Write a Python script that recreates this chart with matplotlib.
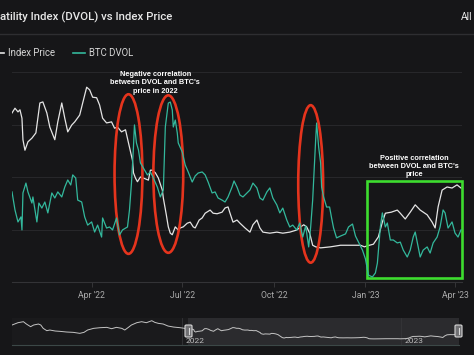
import pandas as pd
import matplotlib
matplotlib.use("Agg")
import matplotlib.pyplot as plt
import matplotlib.dates as mdates
from matplotlib.patches import Ellipse, Rectangle, FancyBboxPatch
from matplotlib.lines import Line2D

plt.rcParams['font.family'] = ['Roboto', 'DejaVu Sans']

W, H = 474, 355
BG = "#161618"
TEAL = "#33b89c"
WHITE = "#e4e4e4"

START = pd.Timestamp("2022-01-11")
END = pd.Timestamp("2023-04-08")
NAV_START = pd.Timestamp("2021-03-24")

# BTC index price (USD), days after START
price_day = [0, 3, 6, 8, 10, 11, 13, 16, 20, 24,
             28, 31, 35, 38, 43, 46, 50, 53, 56, 60,
             63, 68, 71, 75, 78, 81, 85, 88, 91, 95,
             100, 103, 106, 110, 114, 117, 121, 122, 124, 126,
             129, 132, 137, 139, 141, 144, 147, 151, 152, 155,
             157, 159, 161, 164, 167, 169, 172, 176, 179, 182,
             184, 188, 191, 194, 199, 202, 206, 211, 214, 217,
             219, 222, 226, 229, 234, 239, 242, 246, 249, 252,
             259, 266, 272, 279, 286, 290, 293, 296, 299, 302,
             305, 310, 320, 330, 341, 350, 354, 357, 363, 368,
             372, 375, 381, 387, 390, 395, 400, 405, 410, 417,
             422, 425, 428, 432, 437, 442, 447, 451]
price_usd = [42200, 43100, 42400, 42800, 41200, 37100, 35100, 36700, 37400, 38400,
             44100, 44300, 42200, 39500, 37100, 40500, 44100, 41200, 38600, 39900,
             40500, 41800, 44100, 47100, 46600, 45200, 45100, 43700, 41200, 40300,
             40500, 39300, 39500, 38600, 39000, 36500, 33200, 30800, 29800, 29100,
             30000, 29800, 29400, 31300, 31300, 30800, 29800, 27500, 26000, 22800,
             20500, 19300, 19000, 20500, 19900, 20300, 20500, 21200, 21400, 20500,
             20300, 21800, 22200, 23100, 23700, 23100, 23000, 23300, 24100, 24300,
             23100, 21400, 21800, 21200, 20300, 19500, 20900, 21800, 20300, 19500,
             19300, 19500, 19300, 19500, 19900, 20500, 20900, 20500, 19300, 17000,
             16700, 16500, 16700, 17000, 17000, 17000, 16700, 16900, 17200, 18600,
             21400, 23100, 23300, 23700, 23100, 22000, 23300, 24700, 23700, 22800,
             21400, 20300, 24300, 27500, 28100, 27900, 28500, 27900]

# BTC DVOL, days after START
dvol_day = [0, 3, 6, 9, 10, 11, 14, 16, 20, 21,
            25, 27, 30, 33, 36, 40, 43, 46, 50, 53,
            56, 59, 61, 64, 66, 70, 73, 76, 80, 83,
            86, 90, 91, 95, 98, 101, 105, 108, 111, 116,
            118, 120, 122, 123, 125, 127, 129, 132, 136, 139,
            142, 146, 149, 152, 154, 157, 159, 161, 162, 164,
            166, 167, 171, 174, 177, 181, 184, 187, 191, 194,
            197, 201, 204, 207, 211, 214, 217, 221, 223, 226,
            229, 232, 236, 239, 242, 246, 249, 252, 256, 259,
            262, 266, 269, 272, 276, 279, 282, 286, 289, 292,
            295, 298, 300, 302, 304, 305, 306, 308, 310, 311,
            313, 316, 319, 321, 323, 326, 330, 335, 338, 342,
            345, 348, 352, 355, 358, 362, 365, 367, 370, 372,
            375, 377, 380, 383, 387, 390, 393, 397, 400, 403,
            405, 407, 410, 413, 417, 420, 423, 427, 430, 433,
            435, 438, 442, 445, 448, 451]
dvol_val = [72.9, 64.3, 58.6, 61.0, 54.8, 72.4, 77.1, 72.9, 67.6, 70.5,
            58.6, 67.6, 65.2, 68.1, 62.9, 72.4, 70.0, 72.9, 70.5, 75.2,
            78.6, 76.2, 81.0, 79.5, 69.0, 68.1, 61.0, 57.1, 58.6, 53.8,
            57.1, 51.4, 60.5, 55.7, 56.2, 54.8, 60.5, 52.4, 54.8, 56.2,
            64.3, 77.1, 94.3, 104.8, 96.2, 92.9, 86.7, 84.3, 81.0, 82.4,
            79.5, 75.2, 70.5, 73.8, 103.8, 115.2, 115.7, 111.9, 103.8, 107.1,
            101.0, 96.2, 91.9, 85.7, 82.4, 77.6, 80.5, 81.9, 82.4, 81.0,
            77.6, 72.4, 72.9, 70.0, 69.0, 68.1, 70.5, 75.2, 78.1, 75.2,
            71.4, 70.5, 72.4, 73.8, 77.1, 74.8, 70.0, 69.0, 72.9, 74.8,
            70.0, 66.7, 62.9, 65.2, 59.5, 56.2, 57.1, 54.8, 58.1, 51.4,
            56.7, 46.7, 56.2, 69.0, 88.1, 97.6, 105.7, 94.3, 86.7, 75.2,
            70.5, 65.7, 65.7, 60.5, 55.7, 51.0, 51.9, 52.9, 56.2, 57.6,
            51.9, 49.0, 45.2, 41.0, 33.3, 32.4, 34.3, 39.0, 56.2, 62.9,
            56.2, 58.1, 50.0, 50.0, 48.6, 49.0, 45.2, 41.9, 45.2, 51.4,
            53.8, 49.0, 41.9, 45.2, 46.7, 43.8, 48.6, 51.4, 56.2, 64.3,
            62.9, 55.7, 58.6, 53.3, 51.4, 54.8]

# earlier price history, only visible in the navigator (days after NAV_START)
hist_day = [0, 10, 19, 24, 31, 36, 44, 48, 52, 58,
            63, 72, 80, 91, 102, 113, 120, 126, 136, 147,
            158, 166, 174, 183, 188, 194, 199, 208, 216, 224,
            233, 238, 244, 252, 260, 269, 280, 288]
hist_usd = [54000, 60300, 63000, 56700, 49500, 54000, 56700, 54000, 45000, 38700,
            40500, 37800, 36900, 35100, 34200, 31500, 34200, 40500, 45000, 46800,
            47700, 44100, 47700, 45000, 40500, 47700, 54000, 60300, 63000, 60300,
            65700, 61200, 58500, 56700, 51300, 48600, 46800, 45000]

price_ticks = [10000, 20000, 30000, 40000, 50000]
price_tick_labels = ["10K", "20K", "30K", "40K", ""]


def fx(px):
    return px / W


def fy(py):
    return 1 - py / H


price_dates = START + pd.to_timedelta(price_day, unit="D")
dvol_dates = START + pd.to_timedelta(dvol_day, unit="D")
hist_dates = NAV_START + pd.to_timedelta(hist_day, unit="D")

fig = plt.figure(figsize=(W / 100, H / 100), dpi=100, facecolor=BG)

# header
fig.text(0, fy(17), "atility Index (DVOL) vs Index Price", color="#e8e8e8",
         fontsize=8.2, fontweight="medium", va="center", ha="left")
fig.text(fx(461), fy(17), "All", color="#e8e8e8", fontsize=7.5, va="center", ha="left")
fig.add_artist(Line2D([0, 1], [fy(34), fy(34)], color="#2e2e31", lw=1))

# legend
fig.add_artist(Line2D([fx(-6), fx(4)], [fy(53), fy(53)], color=WHITE, lw=1.2))
fig.text(fx(8), fy(53), "Index Price", color="#d6d6d6", fontsize=6.9, va="center")
fig.add_artist(Line2D([fx(73), fx(85)], [fy(53), fy(53)], color=TEAL, lw=1.2))
fig.text(fx(89), fy(53), "BTC DVOL", color="#d6d6d6", fontsize=6.9, va="center")

# main chart: price on the base axes, DVOL on a twin drawn on top
ax = fig.add_axes([fx(12), fy(282), fx(462) - fx(12), fy(72) - fy(282)])
ax2 = ax.twinx()
ax.set_facecolor(BG)
ax.plot(price_dates, price_usd, color=WHITE, lw=0.9)
ax.set_xlim(START, END)
ax.set_ylim(10000, 50000)
ax.yaxis.tick_right()
ax.set_yticks(price_ticks)
ax.set_yticklabels(price_tick_labels)
for lab in ax.get_yticklabels():
    lab.set_va("bottom")
ax.tick_params(axis="y", left=False, labelleft=False, right=False, labelright=True,
               length=0, pad=9, labelsize=5.5, colors="#8a8a8a")
ax.grid(axis="y", color="#28282b", lw=0.7)
for name, sp in ax.spines.items():
    sp.set_visible(name == "bottom")
ax.spines["bottom"].set_color("#333336")
ax.xaxis.set_major_locator(mdates.MonthLocator(bymonth=[1, 4, 7, 10]))
ax.xaxis.set_major_formatter(mdates.DateFormatter("%b '%y"))
ax.tick_params(axis="x", length=3.5, width=0.6, color="#3a3a3d", pad=3,
               labelsize=6.2, labelcolor="#ababab")

ax2.plot(dvol_dates, dvol_val, color=TEAL, lw=0.9)
ax2.set_ylim(30, 130)
ax2.set_yticks([])
ax2.tick_params(axis="y", left=False, right=False, labelleft=False, labelright=False)
for sp in ax2.spines.values():
    sp.set_visible(False)

# highlighted regions
red = "#e5341d"
for day, cy, w, h in [(117, 81.4, 28, 76), (157, 81.4, 30, 75), (300, 76.7, 25, 75)]:
    c = mdates.date2num(START + pd.Timedelta(days=day))
    ax2.add_patch(Ellipse((c, cy), w, h, fill=False, ec=red, lw=1.9, clip_on=False))
x0 = mdates.date2num(START + pd.Timedelta(days=357))
ax2.add_patch(Rectangle((x0, 31.9), 95, 46.2, fill=False, ec="#3ddc2f", lw=1.9,
                        clip_on=False))

ax2.text(START + pd.Timedelta(days=144), 124.8,
         "Negative correlation\nbetween DVOL and BTC's\nprice in 2022",
         color="white", fontsize=5.3, fontweight="bold", ha="center", va="center",
         linespacing=1.3, family=["Liberation Sans", "DejaVu Sans"])
ax2.text(START + pd.Timedelta(days=404), 85,
         "Positive correlation\nbetween DVOL and BTC's\nprice",
         color="white", fontsize=5.3, fontweight="bold", ha="center", va="center",
         linespacing=1.3, family=["Liberation Sans", "DejaVu Sans"])

# navigator
nav = fig.add_axes([fx(12), fy(345), fx(459) - fx(12), fy(318) - fy(345)])
nav.set_facecolor("#1a1a1c")
nav.axvspan(START, END, color="#2b2b2e", lw=0)
for yr in ["2022-01-01", "2023-01-01"]:
    nav.axvline(pd.Timestamp(yr), color="#353538", lw=0.6)
nav.plot(hist_dates, hist_usd, color="#c4c4c4", lw=0.7)
nav.plot(price_dates, price_usd, color="#c4c4c4", lw=0.7)
nav.set_xlim(NAV_START, END)
nav.set_ylim(0, 73000)
nav.set_xticks([])
nav.set_yticks([])
for name, sp in nav.spines.items():
    sp.set_visible(name == "bottom")
nav.spines["bottom"].set_color("#3c4847")
nav.text(pd.Timestamp("2022-01-01") + pd.Timedelta(days=6), 12000, "2022",
         color="#bdbdbd", fontsize=6, va="center")
nav.text(pd.Timestamp("2023-01-01") + pd.Timedelta(days=6), 12000, "2023",
         color="#bdbdbd", fontsize=6, va="center")

for hx in [188.5, 458.5]:
    fig.add_artist(FancyBboxPatch((fx(hx - 3.5), fy(337)), fx(7), 12 / H,
                                  boxstyle="round,pad=0,rounding_size=0.003",
                                  fc="#707073", ec="#d8d8d8", lw=0.8))
    fig.add_artist(Line2D([fx(hx), fx(hx)], [fy(334), fy(328)], color="#d8d8d8", lw=0.8))

fig.savefig("out.png", dpi=100, facecolor=BG)
